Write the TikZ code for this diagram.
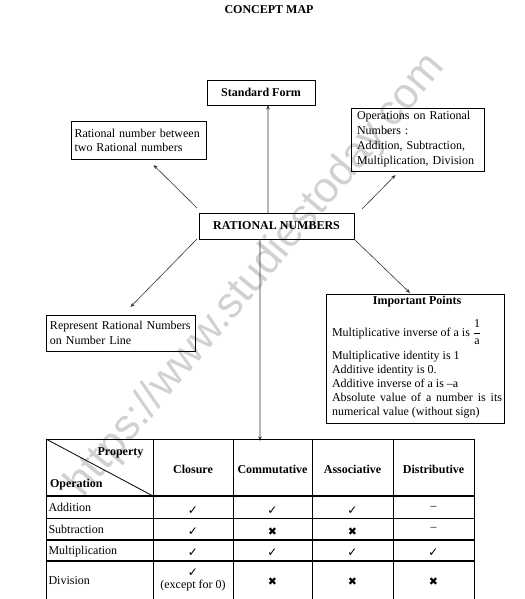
\documentclass[tikz,border=0pt]{standalone}
\usepackage{fontspec}
\setmainfont{Liberation Serif}
\newfontfamily\wmfont{Liberation Sans}
\newfontfamily\dvfont{DejaVu Sans}
\usetikzlibrary{arrows.meta}
\newcommand{\ck}{{\dvfont\fontsize{12bp}{12bp}\selectfont ✓}}
\newcommand{\cx}{{\dvfont\fontsize{11bp}{11bp}\selectfont ✖}}
\begin{document}
\begin{tikzpicture}[x=1bp,y=-1bp,
  every node/.style={inner sep=0pt, outer sep=0pt, font=\fontsize{12bp}{14bp}\selectfont},
  box/.style={draw, line width=0.8bp},
  bftext/.style={font=\bfseries\fontsize{12bp}{14bp}\selectfont},
  arr/.style={line width=0.6bp, draw=black!80, -{Stealth[length=4.5bp,width=3.5bp]}},
  tline/.style={line width=0.8bp},
  thline/.style={line width=1.6bp},
  txt/.style={anchor=base west},
  wm/.style={text=black!18, font=\wmfont\fontsize{43bp}{43bp}\selectfont}]
\useasboundingbox (0,0) rectangle (525,599);

% watermark
\node[wm, rotate=50] (wmark) at (256,276) {https://www.studiestoday.com};

% title
\node[bftext] (title) at (269,10) {CONCEPT MAP};

% boxes
\node[box, bftext, minimum width=108bp, minimum height=25bp] (sf) at (261,92.5) {Standard Form};
\node[box, minimum width=135bp, minimum height=38bp, text width=128bp, align=left] (rb) at (138.5,140)
  {\makebox[128bp][s]{Rational number between}\\two Rational numbers};
\node[box, minimum width=133bp, minimum height=63bp, text width=121bp, align=left, font=\fontsize{12bp}{15bp}\selectfont] (ops) at (417.5,139.5)
  {Operations on Rational\\Numbers :\\Addition, Subtraction,\\Multiplication, Division};
\node[box, bftext, minimum width=155bp, minimum height=26bp] (rn) at (276.5,226) {RATIONAL NUMBERS};
\node[box, minimum width=149bp, minimum height=36bp, text width=141bp, align=left, font=\fontsize{12bp}{15bp}\selectfont] (rep) at (120.5,333)
  {Represent Rational Numbers\\on Number Line};
\node[box, minimum width=178bp, minimum height=129bp] (ip) at (415,358.5) {};

% important points text
\node[bftext] (ipt) at (417,302) {Important Points};
\node[txt] (ip1) at (332,336) {Multiplicative inverse of a is};
\node (ipf) at (477,332) {$\displaystyle\frac{\mbox{1}}{\mbox{a}}$};
\node[txt] (ip2) at (332,359) {Multiplicative identity is 1};
\node[txt] (ip3) at (332,373) {Additive identity is 0.};
\node[txt] (ip4) at (332,387) {Additive inverse of a is –a};
\node[txt] (ip5) at (332,401) {\makebox[170bp][s]{Absolute value of a number is its}};
\node[txt] (ip6) at (332,415) {numerical value (without sign)};

% connectors
\draw[arr] ([xshift=-8.5bp]rn.north) -- ([xshift=7bp]sf.south);
\draw[arr] ([shift={(-2,-5)}]rn.north west) -- ([shift={(15,6)}]rb.south);
\draw[arr] ([shift={(8,-4)}]rn.north east) -- ([shift={(-22,4)}]ops.south);
\draw[arr] ([shift={(-2,0)}]rn.south west) -- ([shift={(10,-8)}]rep.north);
\draw[arr] (rn.south east) -- ([shift={(-5,-1)}]ip.north);
\coordinate (tabtop) at (260,439);
\draw[arr] ([xshift=-16.5bp]rn.south) -- ([yshift=-2bp]tabtop);

% table grid
\draw[tline] (46,439) -- (474,439);
\foreach \x in {46,153,233,312,393,474} \draw[tline] (\x,439) -- (\x,599);
\draw[thline] (46,496) -- (474,496);
\draw[tline] (46,518) -- (474,518);
\draw[thline] (46,540) -- (474,540);
\draw[thline] (46,561) -- (474,561);
\draw[tline] (46,439) -- (153,496);

% header
\node[bftext] (hprop) at (120.5,453) {Property};
\node[txt, bftext] (hop) at (50,487) {Operation};
\node[bftext] (hc1) at (193,469) {Closure};
\node[bftext] (hc2) at (272.5,469) {Commutative};
\node[bftext] (hc3) at (352.5,469) {Associative};
\node[bftext] (hc4) at (433.5,469) {Distributive};

% row labels
\node[txt] (r1) at (48.5,511) {Addition};
\node[txt] (r2) at (48.5,533) {Subtraction};
\node[txt] (r3) at (48.5,554) {Multiplication};
\node[txt] (r4) at (48.5,584) {Division};

% row 1
\node (c11) at (193,511) {\ck};
\node (c12) at (272.5,511) {\ck};
\node (c13) at (352.5,511) {\ck};
\node (c14) at (433.5,508) {–};
% row 2
\node (c21) at (193,532) {\ck};
\node (c22) at (272.5,532) {\cx};
\node (c23) at (352.5,532) {\cx};
\node (c24) at (433.5,529) {–};
% row 3
\node (c31) at (193,553) {\ck};
\node (c32) at (272.5,553) {\ck};
\node (c33) at (352.5,553) {\ck};
\node (c34) at (433.5,553) {\ck};
% row 4
\node (c41) at (193,573) {\ck};
\node (c41b) at (193,586) {(except for 0)};
\node (c42) at (272.5,582) {\cx};
\node (c43) at (352.5,582) {\cx};
\node (c44) at (433.5,582) {\cx};
\end{tikzpicture}
\end{document}
